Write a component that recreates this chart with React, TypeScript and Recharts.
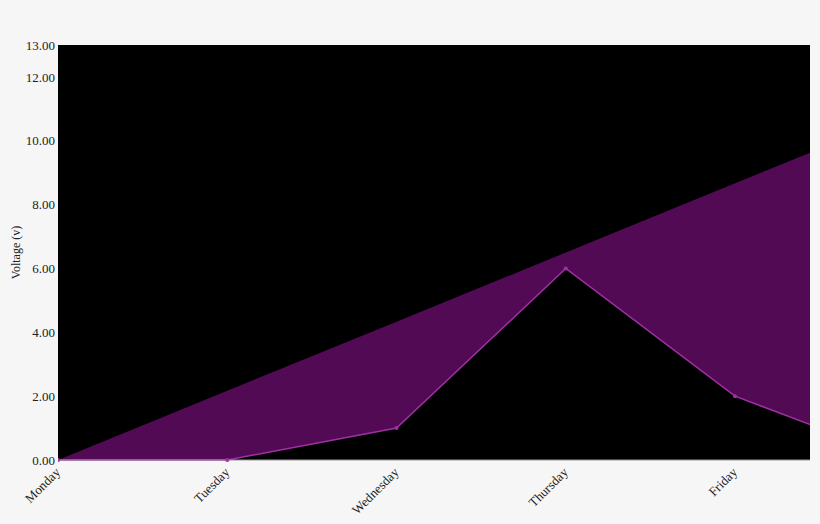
import React from 'react';
import { ComposedChart, Area, Line, XAxis, YAxis, CartesianGrid } from 'recharts';

const days = ['Monday', 'Tuesday', 'Wednesday', 'Thursday', 'Friday', 'Saturday', 'Sunday'];
const dayIndex = [0, 1, 2, 3, 4, 5, 6];
const voltage = [0, 0, 1, 6, 2, 0, 0];
const trend = [0, 2.17, 4.33, 6.5, 8.67, 10.83, 13];
const yTicks = [0, 2, 4, 6, 8, 10, 12, 13];
const xTicks = [0, 1, 2, 3, 4];

const SERIF = '"Liberation Serif", "Times New Roman", Times, serif';

const data = dayIndex.map((x, i) => ({
  x,
  voltage: voltage[i],
  band: [voltage[i], trend[i]],
}));

const XTick = (props: any) => {
  const { x, y, payload } = props;
  const ax = x + 3;
  const ay = y + 11;
  return (
    <text
      x={ax}
      y={ay}
      textAnchor="end"
      fontSize={13}
      style={{ fontFamily: SERIF, fontSize: 13 }}
      fill="#222"
      transform={`rotate(-45, ${ax}, ${ay})`}
    >
      {days[payload.value]}
    </text>
  );
};

export default function App() {
  return (
    <div style={{ position: 'absolute', left: 0, top: 0, width: 820, height: 524, background: '#f6f6f6', fontFamily: SERIF }}>
      <ComposedChart width={820} height={524} data={data} margin={{ top: 45, right: 10, bottom: 0, left: 8 }} style={{ fontFamily: SERIF }}>
        <CartesianGrid fill="#000" horizontal={false} vertical={false} />
        <XAxis
          dataKey="x"
          type="number"
          domain={[0, 4.443]}
          allowDataOverflow
          ticks={xTicks}
          tick={<XTick />}
          tickLine={false}
          tickSize={0}
          axisLine={{ stroke: '#999' }}
          height={64}
          interval={0}
        />
        <YAxis
          type="number"
          domain={[0, 13]}
          ticks={yTicks}
          interval={0}
          tickFormatter={(v: number) => v.toFixed(2)}
          tickLine={false}
          tickSize={0}
          axisLine={false}
          width={50}
          tick={{ style: { fontFamily: SERIF, fontSize: 13 }, fontSize: 13, fill: '#222' }}
          tickMargin={3}
          label={{
            value: 'Voltage (v)',
            angle: -90,
            position: 'insideLeft',
            offset: 8,
            style: { fontFamily: SERIF, fontSize: 12, fill: '#222', textAnchor: 'middle' },
          }}
        />
        <Area
          dataKey="band"
          type="linear"
          fill="#520a54"
          fillOpacity={1}
          stroke="none"
          isAnimationActive={false}
          dot={false}
          activeDot={false}
        />
        <Line
          dataKey="voltage"
          type="linear"
          stroke="#a030a4"
          strokeWidth={1.5}
          dot={{ r: 2, fill: '#a030a4', stroke: '#a030a4', strokeWidth: 0 }}
          isAnimationActive={false}
          activeDot={false}
        />
      </ComposedChart>
    </div>
  );
}
